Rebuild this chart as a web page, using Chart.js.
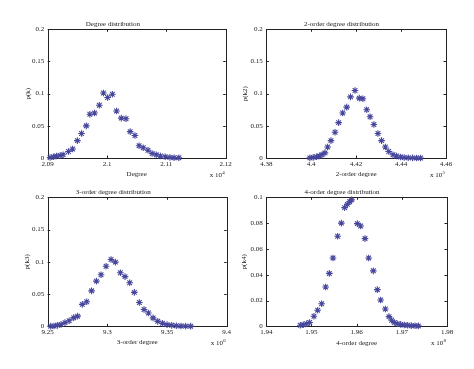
<!DOCTYPE html>
<html><head><meta charset="utf-8">
<script src="https://cdn.jsdelivr.net/npm/chart.js@4/dist/chart.umd.min.js"></script>
<style>
html,body{margin:0;padding:0;background:#fff;}
#wrap{position:relative;width:474px;height:369px;overflow:hidden;background:#fff;}
canvas{position:absolute;display:block;}
</style></head><body>
<div id="wrap">
<canvas id="c1" width="237" height="185" style="left:0;top:0;width:237px;height:185px"></canvas>
<canvas id="c2" width="237" height="185" style="left:237px;top:0;width:237px;height:185px"></canvas>
<canvas id="c3" width="237" height="184" style="left:0;top:185px;width:237px;height:184px"></canvas>
<canvas id="c4" width="237" height="184" style="left:237px;top:185px;width:237px;height:184px"></canvas>
</div>
<script>
// ---- Panel 1: degree (x 10^4)
const degree1 = [2.0904, 2.0910, 2.0915, 2.0921, 2.0926, 2.0935, 2.0942, 2.0950, 2.0957, 2.0965, 2.0971, 2.0979, 2.0987, 2.0994, 2.1001, 2.1009, 2.1016, 2.1024, 2.1032, 2.1039, 2.1047, 2.1054, 2.1061, 2.1069, 2.1076, 2.1083, 2.1090, 2.1098, 2.1106, 2.1113, 2.1121];
const pk1 = [0.0008, 0.002, 0.003, 0.004, 0.005, 0.010, 0.014, 0.027, 0.038, 0.050, 0.068, 0.070, 0.082, 0.101, 0.094, 0.099, 0.073, 0.062, 0.061, 0.041, 0.035, 0.019, 0.016, 0.012, 0.007, 0.005, 0.003, 0.002, 0.001, 0.0005, 0.0005];
const xTicks1 = [2.09, 2.10, 2.11, 2.12];
const xTickLabels1 = ["2.09", "2.1", "2.11", "2.12"];

// ---- Panel 2: 2-order degree (x 10^5)
const degree2 = [4.3994, 4.4009, 4.4024, 4.4036, 4.4048, 4.4061, 4.4073, 4.4088, 4.4106, 4.4122, 4.4140, 4.4158, 4.4175, 4.4195, 4.4214, 4.4230, 4.4247, 4.4262, 4.4279, 4.4297, 4.4313, 4.4330, 4.4345, 4.4364, 4.4380, 4.4398, 4.4414, 4.4432, 4.4451, 4.4469, 4.4487];
const pk2 = [0.0002, 0.001, 0.002, 0.003, 0.005, 0.008, 0.017, 0.027, 0.040, 0.055, 0.070, 0.079, 0.095, 0.105, 0.093, 0.092, 0.075, 0.064, 0.052, 0.038, 0.027, 0.017, 0.010, 0.005, 0.003, 0.0015, 0.0008, 0.0004, 0.0002, 0.0001, 0.0001];
const xTicks2 = [4.38, 4.40, 4.42, 4.44, 4.46];
const xTickLabels2 = ["4.38", "4.4", "4.42", "4.44", "4.46"];

// ---- Panel 3: 3-order degree (x 10^6)
const degree3 = [9.2525, 9.2553, 9.2581, 9.2612, 9.2645, 9.2680, 9.2718, 9.2751, 9.2790, 9.2827, 9.2868, 9.2908, 9.2947, 9.2989, 9.3031, 9.3067, 9.3109, 9.3148, 9.3187, 9.3226, 9.3268, 9.3307, 9.3344, 9.3383, 9.3422, 9.3461, 9.3500, 9.3539, 9.3578, 9.3617, 9.3656, 9.3698];
const pk3 = [0.0002, 0.0005, 0.0015, 0.003, 0.0057, 0.0085, 0.0134, 0.0157, 0.034, 0.038, 0.055, 0.070, 0.080, 0.093, 0.1035, 0.0995, 0.083, 0.077, 0.0675, 0.0526, 0.037, 0.026, 0.0206, 0.013, 0.0077, 0.0046, 0.0026, 0.0015, 0.0008, 0.0005, 0.0003, 0.0002];
const xTicks3 = [9.25, 9.30, 9.35, 9.40];
const xTickLabels3 = ["9.25", "9.3", "9.35", "9.4"];

// ---- Panel 4: 4-order degree (x 10^8)
const degree4 = [1.94753, 1.94819, 1.94893, 1.94959, 1.95055, 1.95137, 1.95225, 1.95314, 1.95395, 1.95476, 1.95579, 1.95661, 1.95734, 1.95793, 1.95845, 1.95889, 1.96015, 1.96089, 1.96185, 1.96266, 1.96369, 1.96458, 1.96531, 1.96635, 1.96716, 1.96775, 1.96834, 1.96900, 1.96974, 1.97055, 1.97129, 1.97210, 1.97292, 1.97365];
const pk4 = [0.0008, 0.0012, 0.002, 0.003, 0.0078, 0.0125, 0.0175, 0.0305, 0.041, 0.053, 0.0698, 0.080, 0.092, 0.0945, 0.0965, 0.098, 0.0796, 0.0778, 0.068, 0.053, 0.043, 0.0284, 0.0204, 0.0134, 0.0075, 0.0047, 0.003, 0.002, 0.0015, 0.001, 0.0008, 0.0005, 0.0004, 0.0003];
const xTicks4 = [1.94, 1.95, 1.96, 1.97, 1.98];
const xTickLabels4 = ["1.94", "1.95", "1.96", "1.97", "1.98"];

const yTicksA = [0, 0.05, 0.10, 0.15, 0.20];
const yTickLabelsA = ["0", "0.05", "0.1", "0.15", "0.2"];
const yTicksB = [0, 0.02, 0.04, 0.06, 0.08, 0.10];
const yTickLabelsB = ["0", "0.02", "0.04", "0.06", "0.08", "0.1"];

const titles = ["Degree distribution", "2-order degree distribution", "3-order degree distribution", "4-order degree distribution"];
const xTitles = ["Degree", "2-order degree", "3-order degree", "4-order degree"];
const yTitles = ["p(k)", "p(k2)", "p(k3)", "p(k4)"];
const exponents = ["4", "5", "6", "8"];

const FONT = '"Liberation Serif", "Times New Roman", serif';
const INK = '#1a1a1a';
const MARK = '#46469c';

const boxPlugin = {
  id: 'matlabBox',
  beforeDatasetsDraw(chart) {
    const {ctx, chartArea: a, scales: {x, y}} = chart;
    ctx.save();
    ctx.strokeStyle = '#222';
    ctx.lineWidth = 1;
    ctx.strokeRect(Math.round(a.left) + 0.5, Math.round(a.top) + 0.5, Math.round(a.right - a.left), Math.round(a.bottom - a.top));
    const L = 2.5;
    ctx.beginPath();
    x.ticks.forEach(t => {
      const px = Math.round(x.getPixelForValue(t.value)) + 0.5;
      ctx.moveTo(px, a.bottom); ctx.lineTo(px, a.bottom - L);
      ctx.moveTo(px, a.top); ctx.lineTo(px, a.top + L);
    });
    y.ticks.forEach(t => {
      const py = Math.round(y.getPixelForValue(t.value)) + 0.5;
      ctx.moveTo(a.left, py); ctx.lineTo(a.left + L, py);
      ctx.moveTo(a.right, py); ctx.lineTo(a.right - L, py);
    });
    ctx.stroke();
    ctx.restore();
  },
  afterDraw(chart, args, opts) {
    const {ctx, chartArea: a} = chart;
    ctx.save();
    ctx.fillStyle = INK;
    ctx.textBaseline = 'alphabetic';
    ctx.font = '5px ' + FONT;
    const supW = ctx.measureText(opts.exp).width;
    const right = a.right - 1;
    const base = a.bottom + 19;
    ctx.textAlign = 'left';
    ctx.fillText(opts.exp, right - supW, base - 3.5);
    ctx.font = '7px ' + FONT;
    ctx.textAlign = 'right';
    ctx.fillText('x 10', right - supW - 0.3, base);
    ctx.restore();
  }
};

function makePanel(id, xs, ys, xTicks, xLabels, yTicks, yLabels, i, g) {
  const tfs = 7, lh = tfs * 1.2;
  new Chart(document.getElementById(id), {
    type: 'scatter',
    data: {
      datasets: [{
        data: xs.map((v, k) => ({x: v, y: ys[k]})),
        pointStyle: 'star',
        radius: 3.3,
        borderColor: MARK,
        backgroundColor: MARK,
        borderWidth: 1.1,
        showLine: false,
        clip: false
      }]
    },
    plugins: [boxPlugin],
    options: {
      responsive: false,
      animation: false,
      events: [],
      layout: {padding: {left: 0, top: 0, bottom: 0, right: g.W - g.right}},
      plugins: {
        legend: {display: false},
        tooltip: {enabled: false},
        title: {
          display: true, text: titles[i], color: INK,
          font: {family: FONT, size: tfs, weight: 'normal'},
          padding: {top: g.tc - lh / 2, bottom: Math.max(0, g.top - g.tc - lh / 2)}
        },
        matlabBox: {exp: exponents[i]}
      },
      scales: {
        x: {
          type: 'linear', min: xTicks[0], max: xTicks[xTicks.length - 1],
          afterBuildTicks: s => { s.ticks = xTicks.map(v => ({value: v})); },
          afterFit: s => { s.height = g.H - g.bottom; },
          grid: {display: false, drawTicks: false},
          border: {display: false},
          ticks: {
            autoSkip: false, maxRotation: 0, padding: 2, color: INK,
            font: {family: FONT, size: 7},
            callback: (v, k) => xLabels[k]
          },
          title: {display: true, text: xTitles[i], color: INK, font: {family: FONT, size: 7},
                  padding: {top: 0, bottom: g.H - g.xt - lh / 2}}
        },
        y: {
          type: 'linear', min: yTicks[0], max: yTicks[yTicks.length - 1],
          afterBuildTicks: s => { s.ticks = yTicks.map(v => ({value: v})); },
          afterFit: s => { s.width = g.left; },
          grid: {display: false, drawTicks: false},
          border: {display: false},
          ticks: {
            autoSkip: false, padding: 3.5, color: INK,
            font: {family: FONT, size: 7},
            callback: (v, k) => yLabels[k]
          },
          title: {display: true, text: yTitles[i], color: INK, font: {family: FONT, size: 7},
                  padding: {top: g.yt - lh / 2, bottom: 0}}
        }
      }
    }
  });
}

makePanel('c1', degree1, pk1, xTicks1, xTickLabels1, yTicksA, yTickLabelsA, 0,
  {W: 237, H: 185, left: 47.7, right: 225.7, top: 29.3, bottom: 158, tc: 24.3, yt: 28, xt: 174.3});
makePanel('c2', degree2, pk2, xTicks2, xTickLabels2, yTicksA, yTickLabelsA, 1,
  {W: 237, H: 185, left: 29.3, right: 209, top: 29.3, bottom: 158, tc: 24.3, yt: 8.3, xt: 174.5});
makePanel('c3', degree3, pk3, xTicks3, xTickLabels3, yTicksA, yTickLabelsA, 2,
  {W: 237, H: 184, left: 47.7, right: 226.7, top: 12.3, bottom: 141.3, tc: 7.5, yt: 27.5, xt: 157});
makePanel('c4', degree4, pk4, xTicks4, xTickLabels4, yTicksB, yTickLabelsB, 3,
  {W: 237, H: 184, left: 29.3, right: 210, top: 12.3, bottom: 141.3, tc: 7.5, yt: 7.3, xt: 158});
</script>
</body></html>
